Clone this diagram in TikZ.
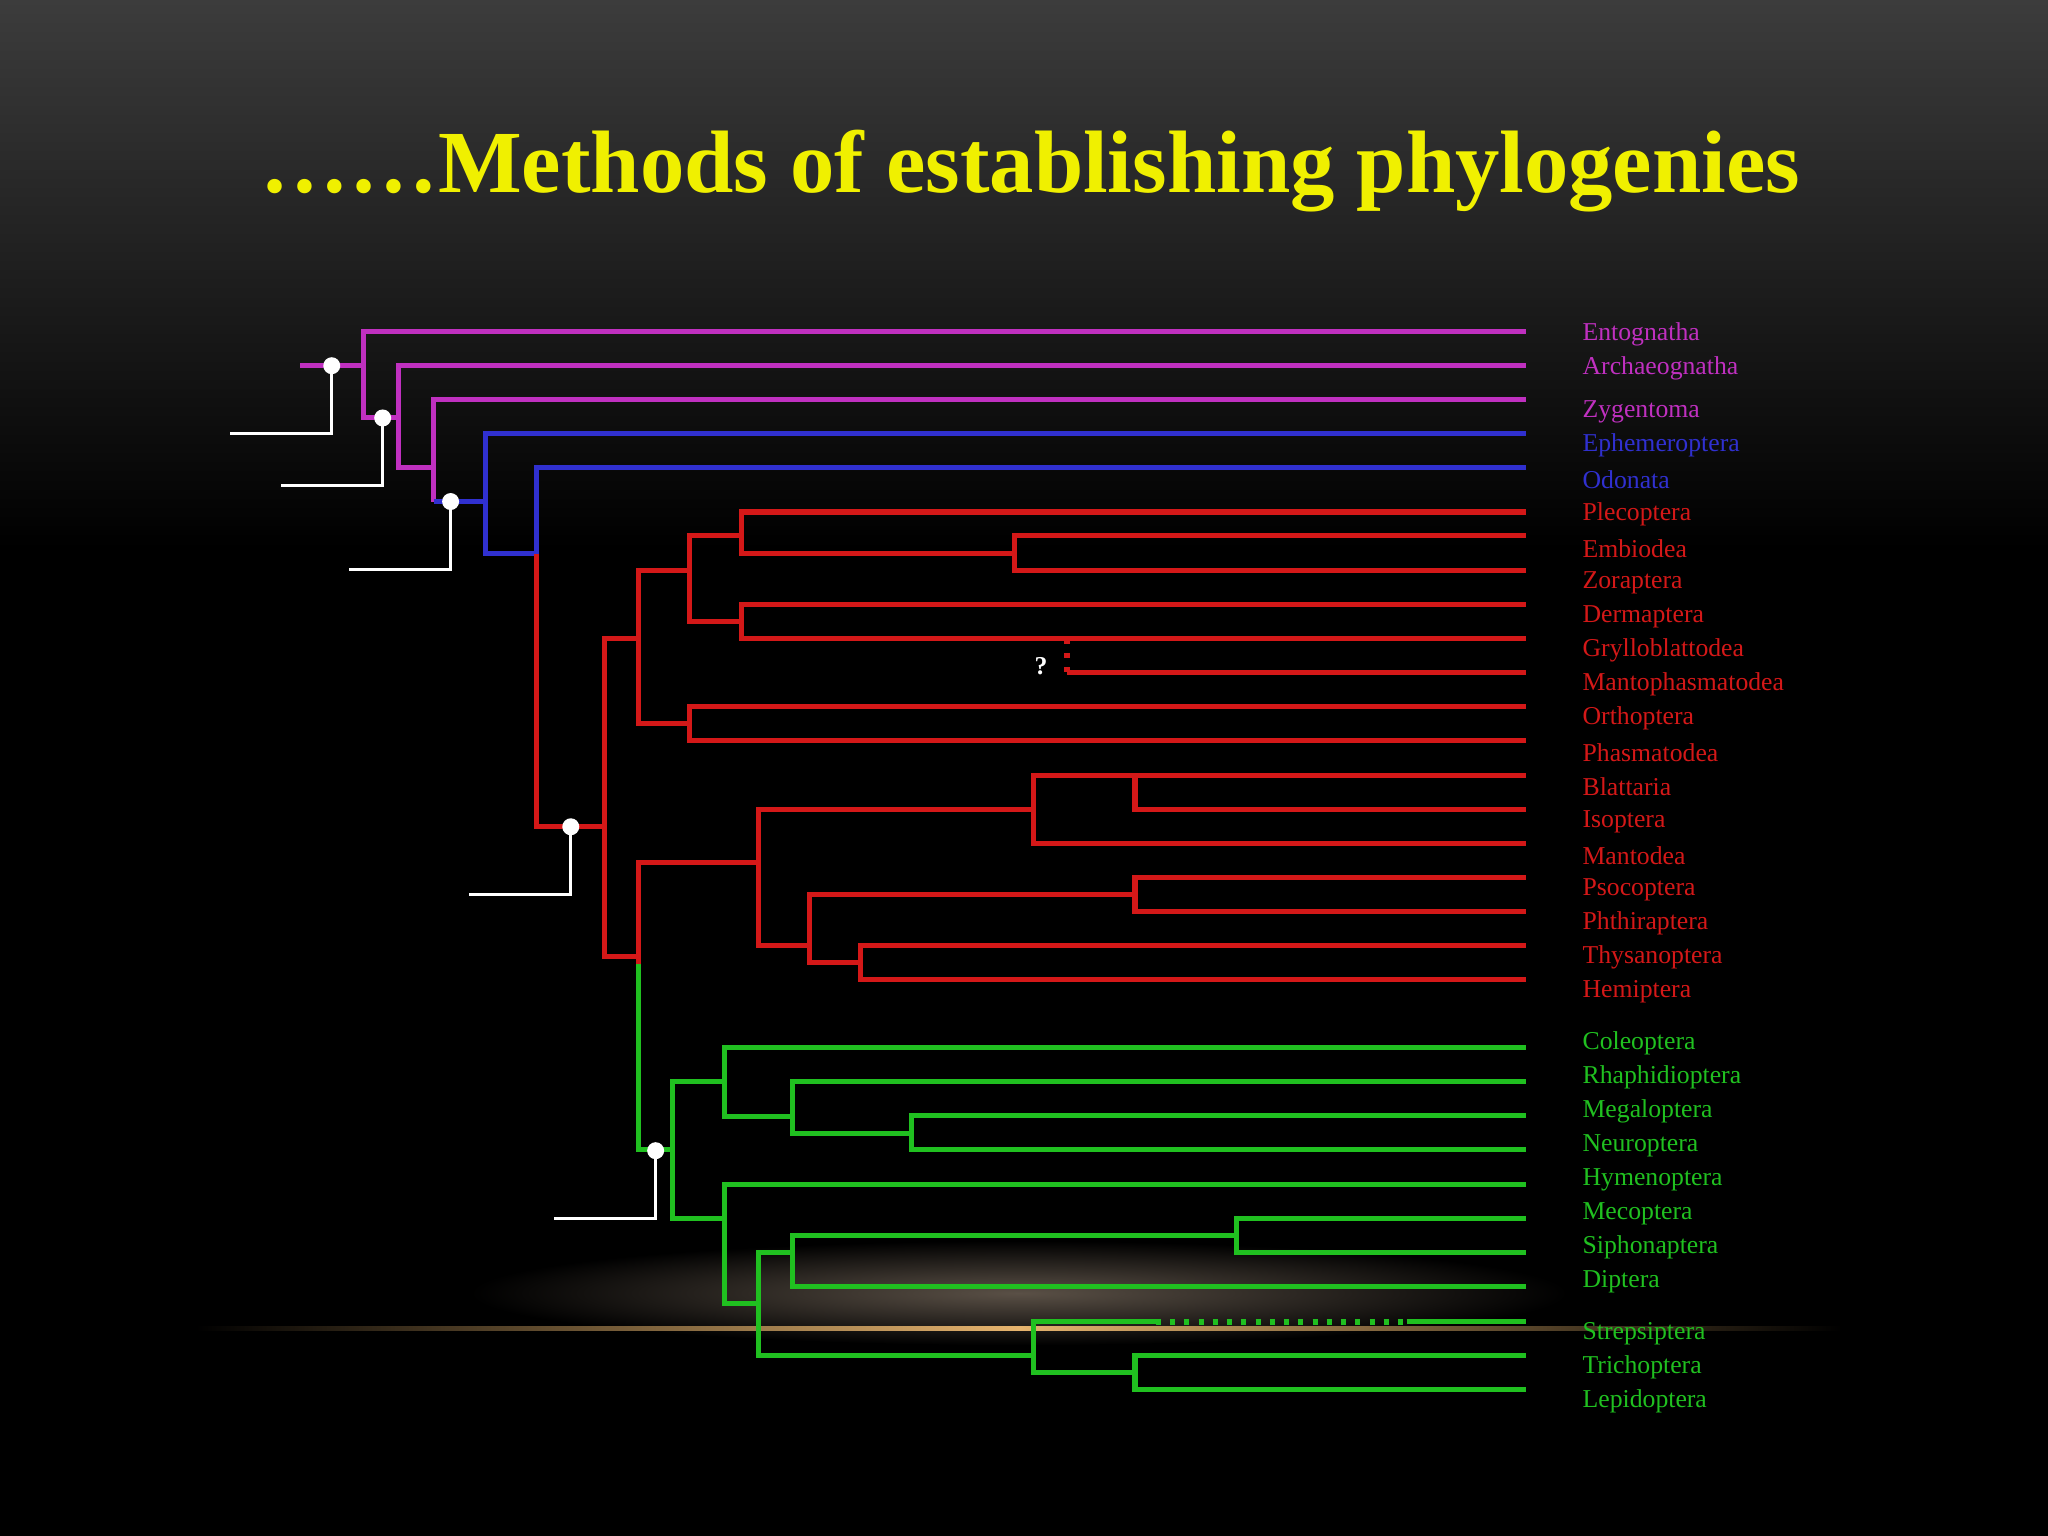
\documentclass[tikz,border=0pt]{standalone}
\usepackage{fontspec}
\setmainfont{Liberation Serif}
\definecolor{cM}{RGB}{192,48,192}
\definecolor{cB}{RGB}{48,48,208}
\definecolor{cR}{RGB}{212,24,24}
\definecolor{cG}{RGB}{32,192,32}
\definecolor{ttl}{RGB}{240,240,0}
\definecolor{gold}{RGB}{230,180,110}
\begin{document}
\begin{tikzpicture}[x=0.01cm,y=-0.01cm,
  br/.style={line width=1.1pt,line join=miter},
  wl/.style={white,line width=0.6pt},
  lab/.style={anchor=west,font=\fontsize{5.6pt}{6pt}\selectfont,inner sep=0pt}]
\useasboundingbox (0,0) rectangle (1568,1176);
\fill[black] (0,0) rectangle (1568,1176);
\shade[top color={rgb,255:red,60;green,60;blue,60}, bottom color=black] (0,0) rectangle (1568,420);
% glow
\shade[inner color={rgb,255:red,90;green,80;blue,70}, outer color=black] (780,990) ellipse (420 and 40);
\shade[left color=black, right color=black, middle color=gold] (150,1015.5) rectangle (1410,1018.5);
\node[ttl,font=\fontsize{19.3pt}{22pt}\selectfont\bfseries] (title) at (789,131) {……Methods of establishing phylogenies};
% magenta
\draw[br,cM] (230,280)--(278,280);
\draw[br,cM] (1168,254)--(278,254)--(278,320)--(305,320);
\draw[br,cM] (1168,280)--(305,280)--(305,358)--(332,358);
\draw[br,cM] (1168,306)--(332,306)--(332,384);
% blue
\draw[br,cB] (332,384)--(372,384);
\draw[br,cB] (1168,332)--(372,332)--(372,424)--(411,424);
\draw[br,cB] (1168,358)--(411,358)--(411,424);
% red
\draw[br,cR] (411,424)--(411,633)--(463,633);
\draw[br,cR] (489,489)--(463,489)--(463,732)--(489,732);
\draw[br,cR] (528,437)--(489,437)--(489,554)--(528,554);
\draw[br,cR] (568,410)--(528,410)--(528,476)--(568,476);
\draw[br,cR] (1168,392)--(568,392)--(568,424)--(777,424);
\draw[br,cR] (1168,410)--(777,410)--(777,437)--(1168,437);
\draw[br,cR] (1168,463)--(568,463)--(568,489)--(1168,489);
\draw[br,cR,dotted,line width=1.3pt] (817,489)--(817,515);
\draw[br,cR] (817,515)--(1168,515);
\node[white,font=\fontsize{5.6pt}{6pt}\selectfont\bfseries] (q) at (797,510) {?};
\draw[br,cR] (1168,541)--(528,541)--(528,567)--(1168,567);
\draw[br,cR] (489,738)--(489,660)--(581,660);
\draw[br,cR] (791,620)--(581,620)--(581,724)--(620,724);
\draw[br,cR] (869,594)--(791,594)--(791,646)--(1168,646);
\draw[br,cR] (1168,594)--(869,594)--(869,620)--(1168,620);
\draw[br,cR] (869,685)--(620,685)--(620,737)--(659,737);
\draw[br,cR] (1168,672)--(869,672)--(869,698)--(1168,698);
\draw[br,cR] (1168,724)--(659,724)--(659,750)--(1168,750);
% green
\draw[br,cG] (489,738)--(489,880)--(515,880);
\draw[br,cG] (555,828)--(515,828)--(515,933)--(555,933);
\draw[br,cG] (1168,802)--(555,802)--(555,855)--(607,855);
\draw[br,cG] (1168,828)--(607,828)--(607,868)--(698,868);
\draw[br,cG] (1168,854)--(698,854)--(698,880)--(1168,880);
\draw[br,cG] (1168,907)--(555,907)--(555,998)--(581,998);
\draw[br,cG] (607,959)--(581,959)--(581,1038)--(791,1038);
\draw[br,cG] (947,946)--(607,946)--(607,985)--(1168,985);
\draw[br,cG] (1168,933)--(947,933)--(947,959)--(1168,959);
\draw[br,cG] (885,1012)--(791,1012)--(791,1051)--(869,1051);
\draw[br,cG,dotted,line width=1.3pt] (885,1012)--(1077,1012);
\draw[br,cG] (1077,1012)--(1168,1012);
\draw[br,cG] (1168,1038)--(869,1038)--(869,1064)--(1168,1064);
% white markers
\foreach \x/\y/\l in {254/280/176,293/320/215,345/384/267,437/633/359,502/881/424}{
  \draw[wl] (\x,\y)--(\x,\y+52)--(\l,\y+52);
  \fill[white] (\x,\y) circle (6.5);
}
% labels
\foreach \t/\y/\c in {Entognatha/254/cM,Archaeognatha/280/cM,Zygentoma/313/cM,Ephemeroptera/339/cB,Odonata/365/cB,
Plecoptera/392/cR,Embiodea/418/cR,Zoraptera/444/cR,Dermaptera/470/cR,Grylloblattodea/496/cR,Mantophasmatodea/522/cR,
Orthoptera/548/cR,Phasmatodea/574/cR,Blattaria/600/cR,Isoptera/627/cR,Mantodea/653/cR,Psocoptera/679/cR,
Phthiraptera/705/cR,Thysanoptera/731/cR,Hemiptera/757/cR,Coleoptera/797/cG,Rhaphidioptera/823/cG,Megaloptera/849/cG,
Neuroptera/875/cG,Hymenoptera/901/cG,Mecoptera/927/cG,Siphonaptera/953/cG,Diptera/979/cG,Strepsiptera/1019/cG,
Trichoptera/1045/cG,Lepidoptera/1071/cG}{
  \node[lab,text=\c] (l\t) at (1211,\y+2) {\t};
}
\end{tikzpicture}
\end{document}
